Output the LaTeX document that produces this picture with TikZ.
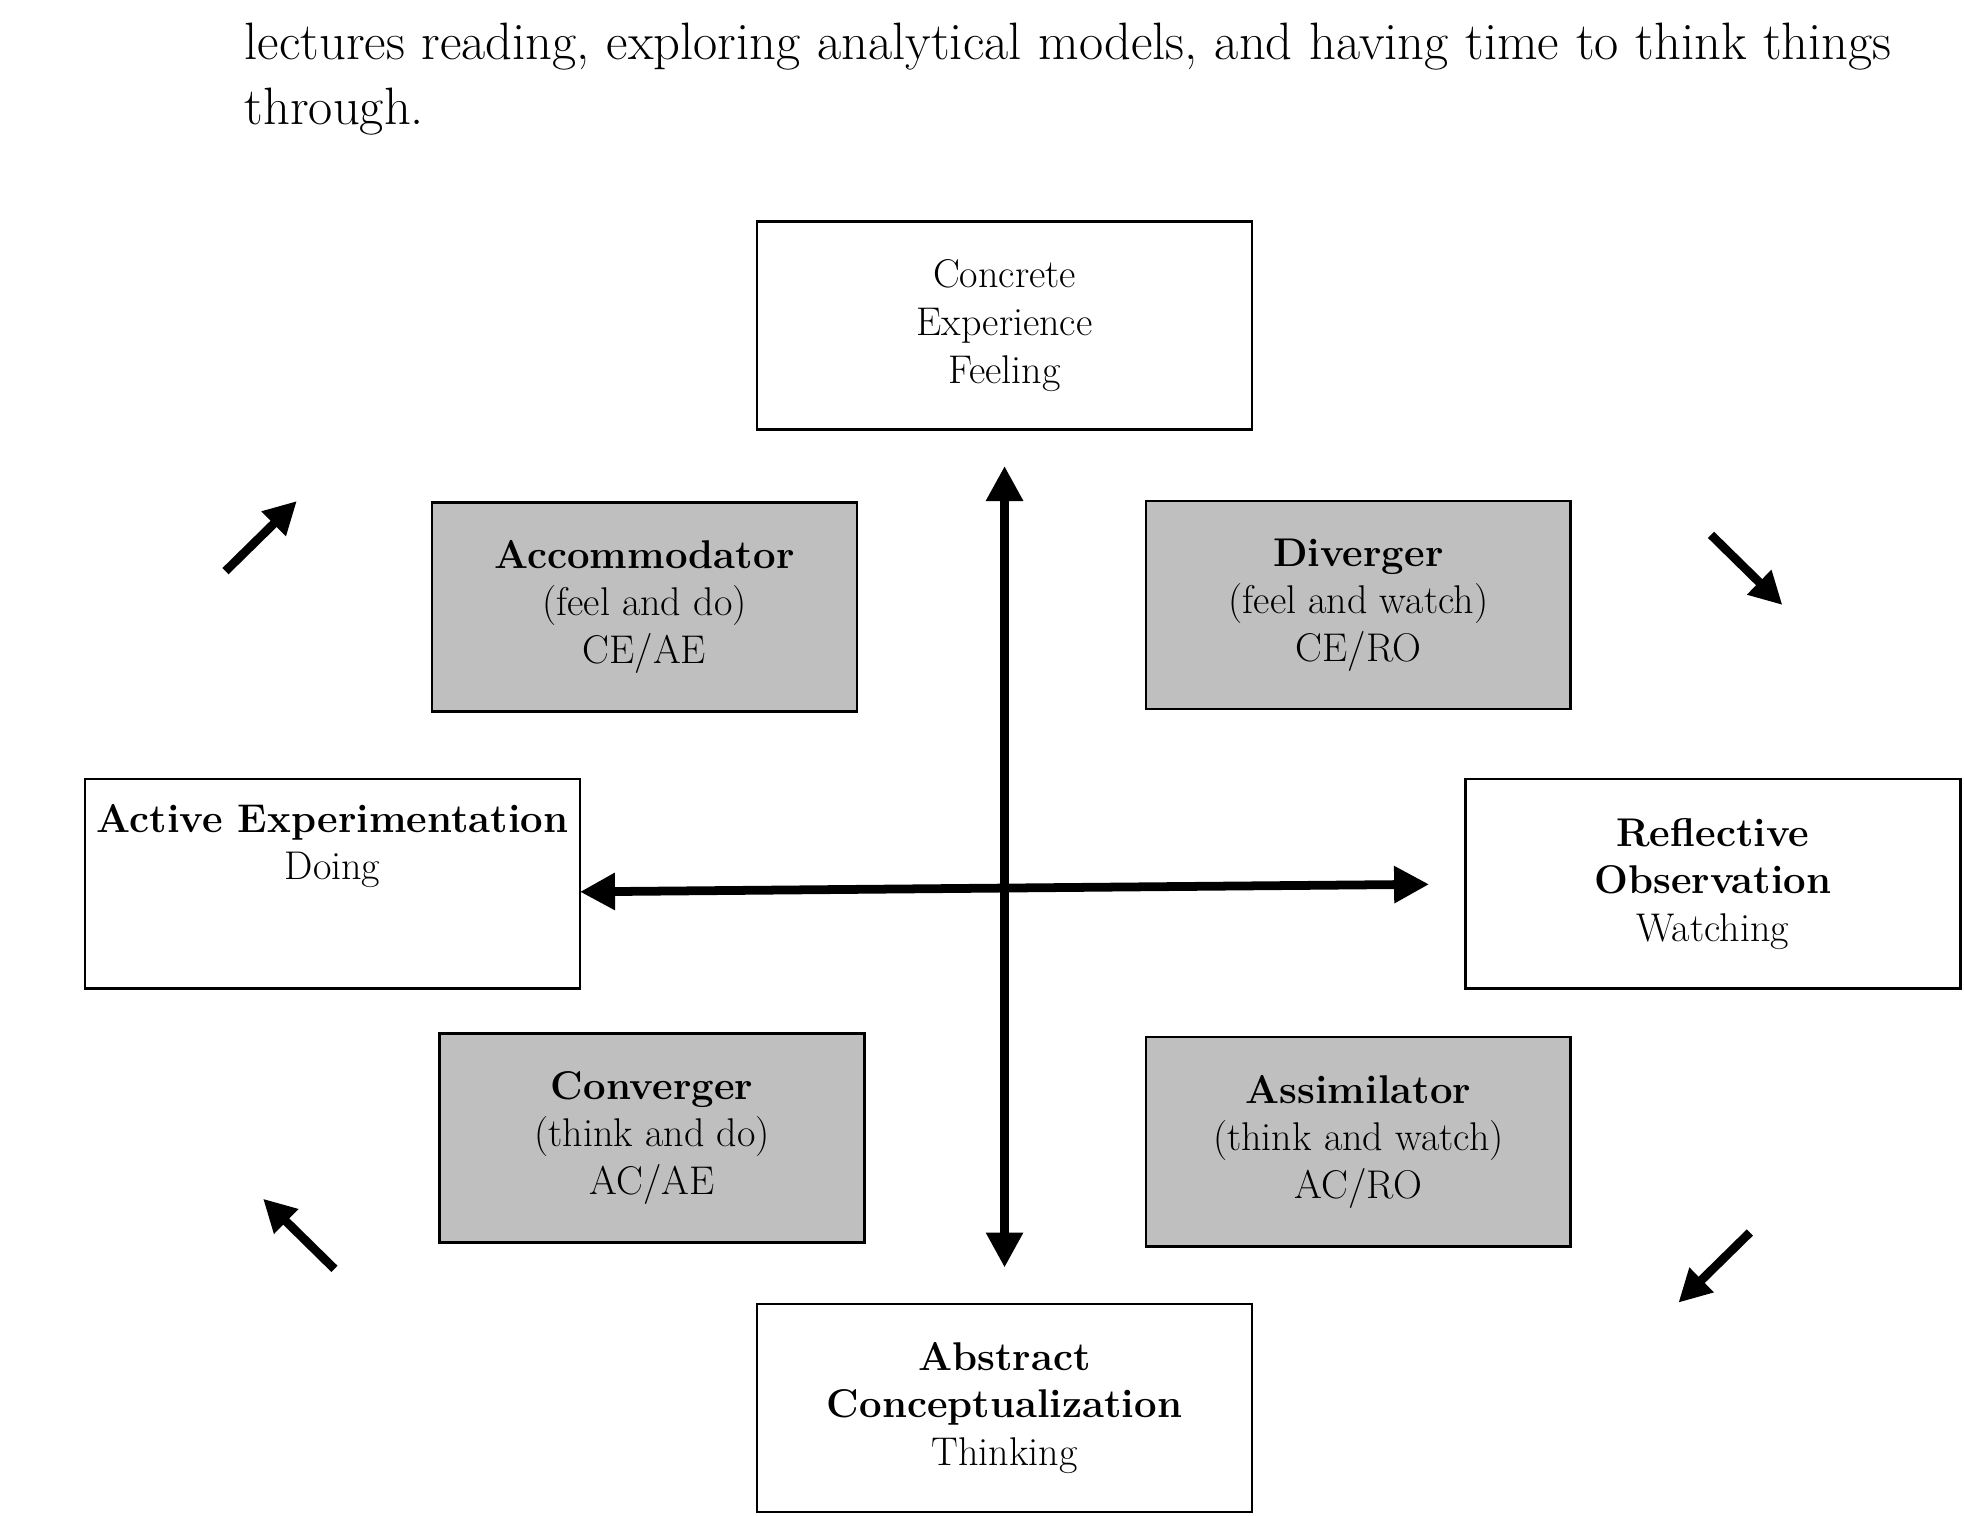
\documentclass[tikz,border=0pt]{standalone}
\usetikzlibrary{arrows.meta}
\begin{document}
\begin{tikzpicture}[x=0.5pt,y=-0.5pt,
  box/.style={draw,line width=1pt,inner sep=0pt,font=\fontsize{16}{19}\selectfont,align=center},
  grey/.style={box,fill=black!25},
  big/.style={line width=3.5pt,-{Triangle[length=14pt,width=14pt]}},
  corner/.style={line width=3.5pt,-{Triangle[length=13pt,width=13pt]}}]
\useasboundingbox (0,0) rectangle (1568,1210);
\node[anchor=north west,inner sep=0pt,text width=657.5pt,align=justify,font=\fontsize{21}{26}\selectfont] (para) at (195,18)
 {lectures reading, exploring analytical models, and having time to think things through.};
\node[box,minimum width=197.5pt,minimum height=83pt] (ce) at (802,260) {Concrete\\Experience\\Feeling};
\node[grey,minimum width=169.5pt,minimum height=83.5pt] (acc) at (514.5,484.5) {\textbf{Accommodator}\\(feel and do)\\CE/AE};
\node[grey,minimum width=169.5pt,minimum height=83pt] (div) at (1084.5,483) {\textbf{Diverger}\\(feel and watch)\\CE/RO};
\node[box,minimum width=197.5pt,minimum height=83.5pt] (ae) at (265.5,705.5) {};
\node[anchor=north,font=\fontsize{16}{19}\selectfont,align=center] (aet) at (265.5,635) {\textbf{Active Experimentation}\\Doing};
\node[box,minimum width=197.5pt,minimum height=83.5pt] (ro) at (1367.5,705.5) {\textbf{Reflective}\\\textbf{Observation}\\Watching};
\node[grey,minimum width=169.5pt,minimum height=83.5pt] (con) at (520.5,908.5) {\textbf{Converger}\\(think and do)\\AC/AE};
\node[grey,minimum width=169.5pt,minimum height=83.5pt] (ass) at (1084.5,911.5) {\textbf{Assimilator}\\(think and watch)\\AC/RO};
\node[box,minimum width=197.5pt,minimum height=83pt] (ac) at (802,1124) {\textbf{Abstract}\\\textbf{Conceptualization}\\Thinking};
\coordinate (vt) at (802,372); \coordinate (vb) at (802,1012);
\coordinate (hl) at (463,712); \coordinate (hr) at (1141,706);
\draw[big,{Triangle[length=14pt,width=14pt]}-{Triangle[length=14pt,width=14pt]}] (vt) -- (vb);
\draw[big,{Triangle[length=14pt,width=14pt]}-{Triangle[length=14pt,width=14pt]}] (hl) -- (hr);
\coordinate (a1) at (180,456); \coordinate (b1) at (237,400);
\coordinate (a2) at (1366,427); \coordinate (b2) at (1423,483);
\coordinate (a3) at (1397,984); \coordinate (b3) at (1340,1040);
\coordinate (a4) at (267,1013); \coordinate (b4) at (210,957);
\draw[corner] (a1) -- (b1);
\draw[corner] (a2) -- (b2);
\draw[corner] (a3) -- (b3);
\draw[corner] (a4) -- (b4);
\end{tikzpicture}
\end{document}
